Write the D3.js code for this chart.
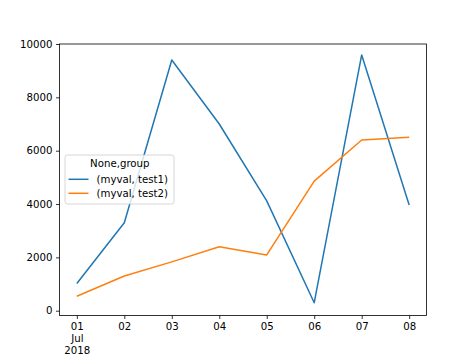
<!DOCTYPE html>
<html><head><meta charset="utf-8">
<script src="https://cdn.jsdelivr.net/npm/d3@7"></script>
<style>body{margin:0;background:#fff}svg{display:block;font-family:"DejaVu Sans",sans-serif}</style>
</head><body><svg id="c" width="474" height="355"></svg>
<script>
const days = ["01","02","03","04","05","06","07","08"];
const test1 = [1020, 3300, 9400, 7000, 4120, 300, 9590, 3960];
const test2 = [540, 1300, 1830, 2400, 2090, 4860, 6400, 6500];
const yTicks = [0, 2000, 4000, 6000, 8000, 10000];
const seriesNames = ["(myval, test1)", "(myval, test2)"];
const legendTitle = "None,group";
const colors = ["#1f77b4", "#ff7f0e"];

const svg = d3.select("#c");
const L = 59.5, R = 426.5, T = 44, B = 315.5;
const x = d3.scaleLinear().domain([0.635, 8.365]).range([L, R]);
const y = d3.scaleLinear().domain([-180, 10000]).range([B, T]);

// lines
const line = d3.line().x((d, i) => x(i + 1)).y(d => y(d));
[test1, test2].forEach((s, k) => {
  svg.append("path").datum(s).attr("d", line).attr("fill", "none")
    .attr("stroke", colors[k]).attr("stroke-width", 1.5).attr("stroke-linejoin", "round");
});

// y axis
const ya = svg.append("g").attr("transform", `translate(${L},0)`)
  .call(d3.axisLeft(y).tickValues(yTicks).tickSize(3.5).tickPadding(3.5).tickFormat(d3.format("d")));
// x axis
const xa = svg.append("g").attr("transform", `translate(0,${B})`)
  .call(d3.axisBottom(x).tickValues(d3.range(1, 9)).tickSize(3.5).tickPadding(3.5).tickFormat((d, i) => days[i]));
[ya, xa].forEach(g => {
  g.select(".domain").remove();
  g.selectAll("line").attr("stroke", "#000").attr("stroke-width", 0.8);
  g.selectAll("text").attr("font-size", 10.2).attr("fill", "#000").attr("font-family", "DejaVu Sans");
});
// month/year under first tick
const first = xa.selectAll(".tick").filter(d => d === 1).select("text");
first.text(null);
first.append("tspan").attr("x", 0).text("01");
first.append("tspan").attr("x", 0).attr("dy", "1.18em").text("Jul");
first.append("tspan").attr("x", 0).attr("dy", "1.15em").text("2018");

// frame
svg.append("rect").attr("x", L).attr("y", T).attr("width", R - L).attr("height", B - T)
  .attr("fill", "none").attr("stroke", "#000").attr("stroke-width", 0.8);

// legend
const lg = svg.append("g");
lg.append("rect").attr("x", 65).attr("y", 155).attr("width", 109).attr("height", 49).attr("rx", 2.5)
  .attr("fill", "#fff").attr("fill-opacity", 0.8).attr("stroke", "#ccc").attr("stroke-width", 0.8);
lg.append("text").attr("x", 119.8).attr("y", 167).attr("text-anchor", "middle")
  .attr("font-size", 10.2).text(legendTitle);
seriesNames.forEach((n, k) => {
  const yy = 179.3 + k * 14;
  lg.append("line").attr("x1", 68.5).attr("x2", 88.5).attr("y1", yy).attr("y2", yy)
    .attr("stroke", colors[k]).attr("stroke-width", 1.5);
  lg.append("text").attr("x", 96.5).attr("y", yy + 3.7).attr("font-size", 10.2).text(n);
});
</script></body></html>
